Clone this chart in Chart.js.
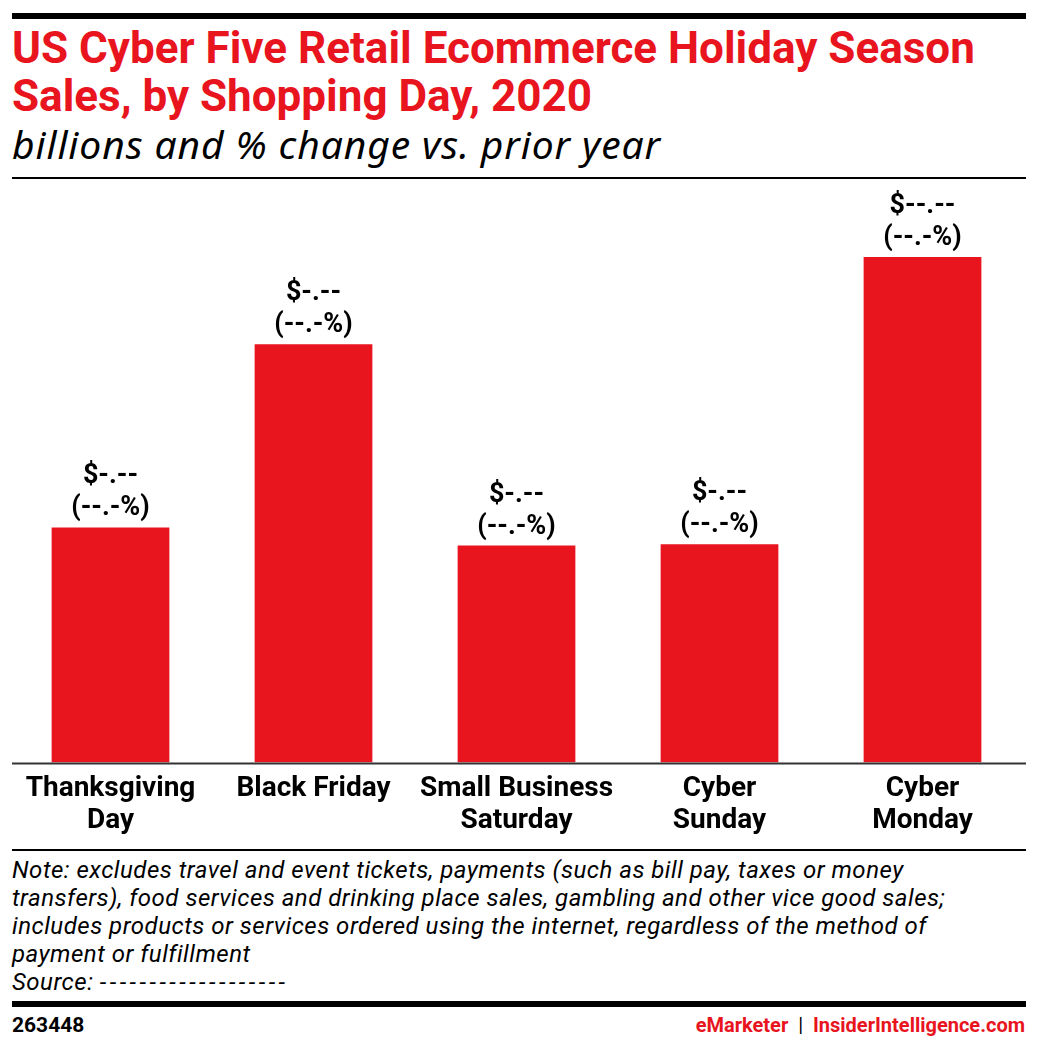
<!DOCTYPE html>
<html>
<head>
<meta charset="utf-8">
<script src="https://cdn.jsdelivr.net/npm/chart.js@4"></script>
<style>
  body { margin: 0; background: #fff; font-family: Roboto, "Noto Sans", sans-serif; }
  #page { position: relative; width: 1038px; height: 1050px; overflow: hidden; }
  .rule { position: absolute; left: 12px; width: 1014px; background: #000; }
  #title { position: absolute; left: 12px; top: 24px; color: #e8141e; font-weight: 700; font-size: 44px; line-height: 48px; white-space: nowrap; }
  #subtitle { position: absolute; left: 12px; top: 117px; font-family: "Noto Sans", sans-serif; font-style: italic; font-size: 39px; letter-spacing: 0.9px; color: #000; white-space: nowrap; }
  #wrap { position: absolute; left: 0; top: 190px; width: 1038px; height: 657px; }
  #note { position: absolute; left: 12px; top: 856px; font-style: italic; font-size: 24px; letter-spacing: 0.5px; line-height: 28px; color: #000; white-space: nowrap; }
  #id { position: absolute; left: 12px; top: 1013px; font-weight: 700; font-size: 21px; }
  #brand { position: absolute; right: 13px; top: 1013px; font-weight: 700; font-size: 20px; color: #e8141e; white-space: nowrap; }
</style>
</head>
<body>
<div id="page">
  <div class="rule" style="top:13px;height:6px"></div>
  <div id="title">US Cyber Five Retail Ecommerce Holiday Season<br>Sales, by Shopping Day, 2020</div>
  <div id="subtitle">billions and % change vs. prior year</div>
  <div class="rule" style="top:177px;height:2px"></div>
  <div id="wrap"><canvas id="chart"></canvas></div>
  <div class="rule" style="top:849px;height:2px"></div>
  <div id="note">Note: excludes travel and event tickets, payments (such as bill pay, taxes or money<br>transfers), food services and drinking place sales, gambling and other vice good sales;<br>includes products or services ordered using the internet, regardless of the method of<br>payment or fulfillment<br>Source: <span style="letter-spacing:3.5px">-------------------</span></div>
  <div class="rule" style="top:1001px;height:6px"></div>
  <div id="id">263448</div>
  <div id="brand"><span>eMarketer</span><span style="color:#000;font-weight:400">&nbsp; | &nbsp;</span><span>InsiderIntelligence.com</span></div>
</div>
<script>
const days = [['Thanksgiving', 'Day'], 'Black Friday', ['Small Business', 'Saturday'], ['Cyber', 'Sunday'], ['Cyber', 'Monday']];
const sales = [5.07, 9.02, 4.68, 4.71, 10.90];
const salesLabels = ['$-.--', '$-.--', '$-.--', '$-.--', '$--.--'];
const changeLabels = ['(--.-%)', '(--.-%)', '(--.-%)', '(--.-%)', '(--.-%)'];

const barLabels = {
  id: 'barLabels',
  afterDatasetsDraw(chart) {
    const ctx = chart.ctx;
    const meta = chart.getDatasetMeta(0);
    ctx.save();
    ctx.fillStyle = '#000';
    ctx.font = 'bold 27px Roboto';
    ctx.textAlign = 'center';
    ctx.textBaseline = 'alphabetic';
    meta.data.forEach((bar, i) => {
      ctx.fillText(changeLabels[i], bar.x, bar.y - 12);
      ctx.fillText(salesLabels[i], bar.x, bar.y - 44);
    });
    ctx.restore();
  }
};

const axisLine = {
  id: 'axisLine',
  afterDatasetsDraw(chart) {
    const ctx = chart.ctx;
    const y = chart.chartArea.bottom;
    ctx.save();
    ctx.strokeStyle = '#333';
    ctx.lineWidth = 2;
    ctx.beginPath();
    ctx.moveTo(12, y + 1);
    ctx.lineTo(1026, y + 1);
    ctx.stroke();
    ctx.restore();
  }
};

new Chart(document.getElementById('chart'), {
  type: 'bar',
  data: {
    labels: days,
    datasets: [{ data: sales, backgroundColor: '#e8141e', barPercentage: 0.58, categoryPercentage: 1 }]
  },
  options: {
    responsive: true,
    maintainAspectRatio: false,
    animation: false,
    layout: { padding: { top: 16, left: 9, right: 14, bottom: 0 } },
    plugins: { legend: { display: false }, tooltip: { enabled: false } },
    scales: {
      x: {
        grid: { display: false, drawTicks: false },
        border: { display: false },
        ticks: { color: '#000', font: { family: 'Roboto', size: 28, weight: 'bold', lineHeight: 1.15 }, padding: 10, maxRotation: 0, autoSkip: false }
      },
      y: { display: false, min: 0, max: 12 }
    }
  },
  plugins: [barLabels, axisLine]
});
</script>
</body>
</html>
